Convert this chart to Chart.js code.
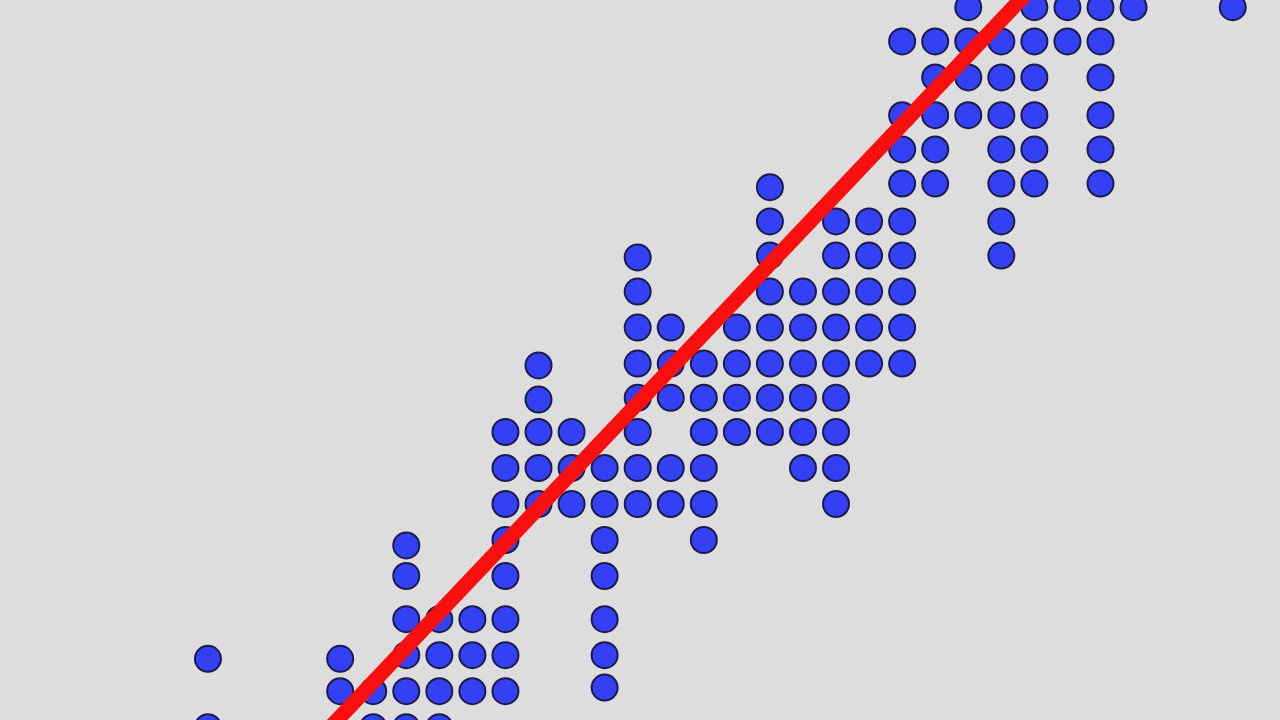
<!DOCTYPE html>
<html>
<head>
<meta charset="utf-8">
<title>Scatter with trend line</title>
<script src="https://cdn.jsdelivr.net/npm/chart.js@4/dist/chart.umd.min.js"></script>
<style>
    html, body { margin: 0; padding: 0; background: #dddddd; }
    #wrap { width: 1280px; height: 720px; position: relative; }
</style>
</head>
<body>
<div id="wrap"><canvas id="chart"></canvas></div>
<script>
// x position of each column of dots
const columnX = [0, 4, 5, 6, 7, 8, 9, 10, 11, 12, 13, 14, 15, 16, 17, 18, 19, 20, 21, 22, 23, 24, 25, 26, 27, 28, 31];

// y values of the dots stacked in each column (same order as columnX)
const columnY = [
    [1.7, -0.2],
    [1.7, 0.8],
    [0.8, -0.2],
    [4.85, 4.0, 2.8, 1.8, 0.8, -0.2],
    [2.8, 1.8, 0.8, -0.2],
    [2.8, 1.8, 0.8],
    [8.0, 7.0, 6.0, 5.0, 4.0, 2.8, 1.8, 0.8],
    [9.85, 8.9, 8.0, 7.0, 6.0],
    [8.0, 7.0, 6.0],
    [7.0, 6.0, 5.0, 4.0, 2.8, 1.8, 0.9],
    [12.85, 11.9, 10.9, 9.9, 8.95, 8.0, 7.0, 6.0],
    [10.9, 9.9, 8.95, 7.0, 6.0],
    [9.9, 8.95, 8.0, 7.0, 6.0, 5.0],
    [10.9, 9.9, 8.95, 8.0],
    [14.8, 13.85, 12.9, 11.9, 10.9, 9.9, 8.95, 8.0],
    [11.9, 10.9, 9.9, 8.95, 8.0, 7.0],
    [13.85, 12.9, 11.9, 10.9, 9.9, 8.95, 8.0, 7.0, 6.0],
    [13.85, 12.9, 11.9, 10.9, 9.9],
    [18.85, 16.8, 15.85, 14.9, 13.85, 12.9, 11.9, 10.9, 9.9],
    [18.85, 17.85, 16.8, 15.85, 14.9],
    [19.8, 18.85, 17.85, 16.8],
    [18.85, 17.85, 16.8, 15.85, 14.9, 13.85, 12.9],
    [19.8, 18.85, 17.85, 16.8, 15.85, 14.9],
    [19.8, 18.85],
    [19.8, 18.85, 17.85, 16.8, 15.85, 14.9],
    [19.8],
    [19.8]
];

// trend line end points
const trendX = [2, 27];
const trendY = [-1.85, 22.35];

// build point list for the scatter dataset
const points = [];
columnX.forEach((x, i) => {
    columnY[i].forEach(y => points.push({ x: x, y: y }));
});

const trend = trendX.map((x, i) => ({ x: x, y: trendY[i] }));

const ctx = document.getElementById('chart').getContext('2d');
new Chart(ctx, {
    type: 'scatter',
    data: {
        datasets: [
            {
                label: 'Trend',
                data: trend,
                showLine: true,
                borderColor: '#fa0f0f',
                borderWidth: 15,
                pointRadius: 0,
                pointHoverRadius: 0,
                order: 0,
            },
            {
                label: 'Points',
                data: points,
                backgroundColor: '#3440f4',
                borderColor: '#1c1c4a',
                borderWidth: 2,
                pointRadius: 13,
                pointHoverRadius: 13,
                order: 1,
            },
        ],
    },
    options: {
        responsive: true,
        maintainAspectRatio: false,
        animation: false,
        layout: { padding: 0, autoPadding: false },
        plugins: {
            legend: { display: false },
            tooltip: { enabled: false },
        },
        scales: {
            x: { type: 'linear', min: -6.29, max: 32.43, display: false },
            y: { type: 'linear', min: 0, max: 20, display: false },
        },
    },
});
</script>
</body>
</html>
